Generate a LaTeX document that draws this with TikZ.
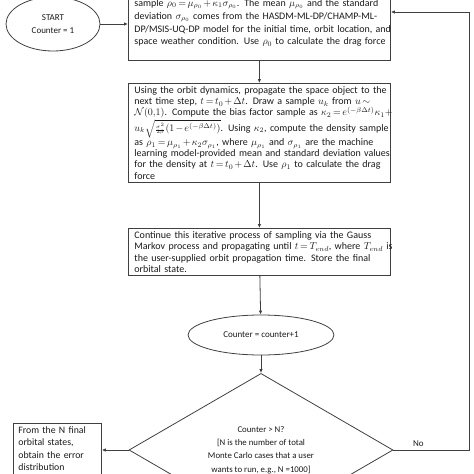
\documentclass[tikz,border=0pt]{standalone}
\usepackage{fontspec}
\setmainfont{Carlito}
\usetikzlibrary{shapes.geometric, arrows.meta, positioning, calc}
\definecolor{FlowLine}{HTML}{404040}
\definecolor{FlowText}{HTML}{1A1A1A}
\newcommand{\oneline}[1]{\mbox{#1}}
\newcommand{\tightmath}{\medmuskip=2mu\relax\thickmuskip=3mu\relax}
\tikzset{
    % Box styles
    stepbox/.style={
        rectangle,
        draw=FlowLine,
        line width=0.8pt,
        inner xsep=6pt,
        inner ysep=3pt,
        text width=250pt,
        align=left,
        text=FlowText,
        font=\fontsize{10}{12.8}\selectfont
    },
    terminal/.style={
        ellipse,
        draw=FlowLine,
        line width=0.8pt,
        align=center,
        text=FlowText,
        font=\fontsize{9}{12.5}\selectfont
    },
    decision/.style={
        diamond,
        draw=FlowLine,
        line width=0.8pt,
        inner sep=0pt,
        minimum width=264pt,
        minimum height=126pt,
        align=center,
        text=FlowText,
        font=\fontsize{8.8}{13.2}\selectfont
    },
    % Arrow styles
    arrow/.style={
        -{Latex[length=4pt,width=3.5pt]},
        line width=0.8pt,
        draw=FlowLine
    }
}
\begin{document}
\begin{tikzpicture}[x=1pt, y=-1pt]
    \useasboundingbox (0,0) rectangle (474,474);

    % Start
    \node[terminal, minimum width=94pt, minimum height=54pt] (start) at (53,24) {START\\Counter = 1};

    % Initial density sample
    \node[stepbox, anchor=south west] (init) at (128,61) {\tightmath
        \oneline{sample $\rho_0 = \mu_{\rho_0} + \kappa_1\sigma_{\rho_0}$. The mean $\mu_{\rho_0}$ and the standard}\\
        \oneline{deviation $\sigma_{\rho_0}$ comes from the HASDM-ML-DP/CHAMP-ML-}\\
        \oneline{DP/MSIS-UQ-DP model for the initial time, orbit location, and}\\
        \oneline{space weather condition. Use $\rho_0$ to calculate the drag force}\\
        ~
    };

    % Propagation step
    \node[stepbox, anchor=north west, font=\fontsize{10}{11.2}\selectfont] (prop) at (128,83) {\tightmath
        \oneline{Using the orbit dynamics, propagate the space object to the}\\
        \oneline{\tightmath next time step, $t = t_0 + \Delta t$. Draw a sample $u_k$ from $u \sim$}\\
        \oneline{\tightmath$\mathcal{N}(0{,}1)$. Compute the bias factor sample as $\kappa_2 = e^{(-\beta\Delta t)}\kappa_1 +$}\\
        \oneline{\tightmath$u_k\sqrt{{\scriptstyle\frac{\sigma^2}{2\beta}}(1 - e^{(-\beta\Delta t)})}$. Using $\kappa_2$, compute the density sample}\\
        \oneline{\tightmath as $\rho_1 = \mu_{\rho_1} + \kappa_2\sigma_{\rho_1}$, where $\mu_{\rho_1}$ and $\sigma_{\rho_1}$ are the machine}\\
        \oneline{learning model-provided mean and standard deviation values}\\
        \oneline{\tightmath for the density at $t = t_0 + \Delta t$. Use $\rho_1$ to calculate the drag}\\
        force
    };

    % Iteration
    \node[stepbox, anchor=north west, font=\fontsize{10}{11.4}\selectfont] (iter) at (128,228) {\tightmath
        \oneline{Continue this iterative process of sampling via the Gauss}\\
        \oneline{\tightmath Markov process and propagating until $t = T_{end}$, where $T_{end}$ is}\\
        \oneline{the user-supplied orbit propagation time. Store the final}\\
        orbital state.
    };

    % Counter update and check
    \node[terminal, minimum width=146pt, minimum height=40pt] (count) at (261,335) {Counter = counter+1};
    \node[decision] (check) at (261,450) {Counter > N?\\{}[N is the number of total\\Monte Carlo cases that a user\\wants to run, e.g., N =1000]};

    % Result
    \node[stepbox, anchor=north west, text width=78pt, inner xsep=5pt, font=\fontsize{9.8}{12.4}\selectfont] (final) at (13,423) {
        From the N final\\
        orbital states,\\
        obtain the error\\
        distribution\\
        ~
    };

    % Arrows
    \coordinate (loop) at (469,12);
    \draw[arrow] (start.east) -- (start.east -| init.west);
    \draw[arrow] (init) -- (prop);
    \draw[arrow] (prop) -- (iter);
    \draw[arrow] (iter) -- (count);
    \draw[arrow] (count) -- (check);
    \draw[arrow] (check.west) -- (check.west -| final.east);
    \draw[arrow] (check.east) -- node[above, pos=0.33, font=\fontsize{9}{11}\selectfont, text=FlowText] {No} (check.east -| loop) -- (loop) -- (loop -| init.east);
\end{tikzpicture}
\end{document}
